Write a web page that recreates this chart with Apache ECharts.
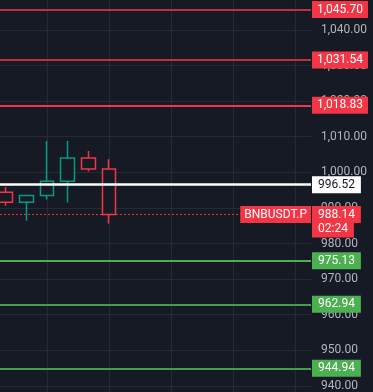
<!DOCTYPE html>
<html><head><meta charset="utf-8">
<script src="https://cdn.jsdelivr.net/npm/echarts@6/dist/echarts.min.js"></script>
<style>html,body{margin:0;padding:0;background:#161a25}#c{width:373px;height:392px}</style>
</head><body><div id="c"></div>
<script>
// candle positions (bar index relative to a grid line)
const candleIndex = [-2, -1, 0, 1, 2, 3];
const opens  = [994.4, 991.6, 993.5, 997.5, 1004.0, 1000.9];
const closes = [991.6, 993.5, 997.5, 1004.0, 1000.9, 988.14];
const lows   = [990.6, 986.4, 992.4, 991.5, 1000.2, 985.6];
const highs  = [995.9, 993.6, 1008.8, 1008.8, 1006.0, 1003.7];

const resistanceLevels = [1045.70, 1031.54, 1018.83];
const supportLevels = [975.13, 962.94, 944.94];
const markPrice = 996.52;
const lastPrice = 988.14;
const countdown = '02:24';
const symbolName = 'BNBUSDT.P';

const BG = '#161a25';
const RED = '#f23645';
const GREEN = '#089981';
const fmt = v => v.toLocaleString('en-US', {minimumFractionDigits: 2, maximumFractionDigits: 2});
const FONT = 'Roboto, "Noto Sans", sans-serif';

const candleData = candleIndex.map((x, i) => [x, opens[i], closes[i], lows[i], highs[i]]);

const resColors = ['#c22f3b', '#c22f3b', '#f23645'];
const supColors = ['#4caf50', '#43a047', '#43a047'];
const dotted = {color: RED, width: 1, type: [1.5, 2.5]};

const markData = [];
resistanceLevels.forEach((v, i) => markData.push({
  yAxis: v,
  lineStyle: {color: resColors[i], width: 2, type: 'solid'},
  label: {show: true, position: 'end', distance: 1, formatter: fmt(v), backgroundColor: RED,
    color: '#ffffff', padding: [2, 5, 2, 5], fontSize: 12, lineHeight: 13, fontFamily: FONT}
}));
supportLevels.forEach((v, i) => markData.push({
  yAxis: v,
  lineStyle: {color: supColors[i], width: 2, type: 'solid'},
  label: {show: true, position: 'end', distance: 1, formatter: fmt(v), backgroundColor: '#4caf50',
    color: '#ffffff', padding: [2, 6, 2, 6], fontSize: 12, lineHeight: 13, fontFamily: FONT}
}));
markData.push({
  yAxis: markPrice,
  lineStyle: {color: '#ffffff', width: 2.5, type: 'solid'},
  label: {show: true, position: 'end', distance: 1, formatter: fmt(markPrice), backgroundColor: '#ffffff',
    color: '#131722', padding: [2, 6, 2, 6], fontSize: 12, lineHeight: 13, fontFamily: FONT}
});
// countdown part of the last-price tag (below the price)
markData.push({
  yAxis: lastPrice,
  lineStyle: dotted,
  label: {show: true, position: 'end', distance: 1, verticalAlign: 'top', formatter: countdown, backgroundColor: RED,
    color: '#ffffff', padding: [8, 6, 2, 6], fontSize: 12, lineHeight: 13, fontFamily: FONT}
});
markData.push({
  yAxis: lastPrice,
  lineStyle: dotted,
  label: {show: true, position: 'end', distance: 1, formatter: fmt(lastPrice), backgroundColor: RED,
    color: '#ffffff', padding: [2, 6, 2, 6], fontSize: 12, lineHeight: 13, fontFamily: FONT}
});
markData.push({
  yAxis: lastPrice,
  lineStyle: dotted,
  label: {show: true, position: 'insideEnd', distance: 0, formatter: symbolName, backgroundColor: RED,
    color: '#ffffff', padding: [2, 4, 2, 4], fontSize: 12, lineHeight: 13, fontFamily: FONT}
});

const chart = echarts.init(document.getElementById('c'), null, {renderer: 'canvas'});
chart.setOption({
  backgroundColor: BG,
  animation: false,
  grid: {left: 0, right: 62, top: 0, bottom: 0},
  xAxis: {
    type: 'value', min: -2.27, max: 12.75, minInterval: 3, maxInterval: 3, splitNumber: 5,
    axisLine: {show: false}, axisTick: {show: false}, axisLabel: {show: false},
    splitLine: {show: true, showMinLine: false, showMaxLine: false, lineStyle: {color: '#262a35', width: 1}}
  },
  yAxis: {
    type: 'value', position: 'right', min: 938.3, max: 1048.4, splitNumber: 11,
    minInterval: 10, maxInterval: 10, scale: true,
    axisLine: {show: false}, axisTick: {show: false},
    axisLabel: {show: true, showMinLabel: false, showMaxLabel: false, margin: 10, color: '#b2b5be',
      fontSize: 12, fontFamily: FONT, formatter: v => fmt(v)},
    splitLine: {show: true, showMinLine: false, showMaxLine: false, lineStyle: {color: '#262a35', width: 1}}
  },
  series: [{
    type: 'candlestick',
    dimensions: ['t', 'open', 'close', 'lowest', 'highest'],
    encode: {x: 't', y: ['open', 'close', 'lowest', 'highest']},
    data: candleData,
    barWidth: 14,
    itemStyle: {color: BG, color0: BG, borderColor: GREEN, borderColor0: RED, borderWidth: 1.5},
    markLine: {silent: true, symbol: ['none', 'none'], animation: false, data: markData}
  }]
});
</script></body></html>
